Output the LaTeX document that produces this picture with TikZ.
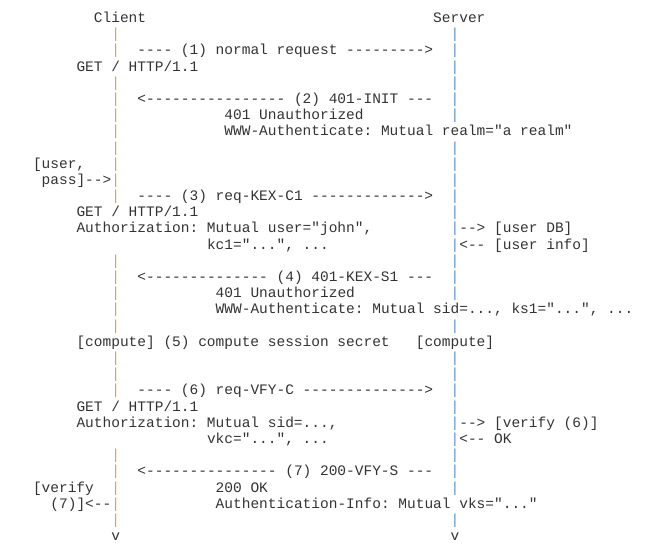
\documentclass[tikz,border=0pt]{standalone}
\usepackage{fontspec}
\setmonofont{Liberation Mono}
\definecolor{txt}{HTML}{333333}
\definecolor{cbar}{HTML}{E8A23C}
\definecolor{sbar}{HTML}{5B8FD8}
\tikzset{seg/.style={anchor=base west,inner sep=0pt,outer sep=0pt,font=\ttfamily\fontsize{14.5}{16}\selectfont,text=txt}}
\newcommand{\sg}[4]{\node[seg] (#1) at ({33+8.7*#3},{-(22.5+16.19*#2)}) {#4};}
\begin{document}
\begin{tikzpicture}[x=1pt,y=1pt]
\useasboundingbox (0,0) rectangle (667,-553);
% client bars
\foreach \r in {1,2,4,5,6,7,8,9,10,11,15,16,17,18,19,21,22,23,27,28,29,30,31}{
  \node[seg,text=cbar] (c\r) at ({33+8.7*9},{-(22.5+16.19*\r)}) {|};}
\foreach \r in {1,2,3,4,5,6,8,9,10,11,12,13,14,15,16,17,19,21,22,23,24,25,26,27,28,29,31}{
  \node[seg,text=sbar] (s\r) at ({33+8.7*48},{-(22.5+16.19*\r)}) {|};}
\sg{client}{0}{7}{Client}
\sg{server}{0}{46}{Server}
\sg{m1}{2}{12}{---- (1) normal request --------->}
\sg{g1}{3}{5}{GET / HTTP/1.1}
\sg{m2}{5}{12}{<---------------- (2) 401-INIT ---}
\sg{u2}{6}{22}{401 Unauthorized}
\sg{w2}{7}{22}{WWW-Authenticate: Mutual realm="a realm"}
\sg{up1}{9}{0}{[user,}
\sg{up2}{10}{1}{pass]-->}
\sg{m3}{11}{12}{---- (3) req-KEX-C1 ------------->}
\sg{g3}{12}{5}{GET / HTTP/1.1}
\sg{a3}{13}{5}{Authorization: Mutual user="john",}
\sg{k3}{14}{20}{kc1="...", ...}
\sg{db1}{13}{49}{--> [user DB]}
\sg{db2}{14}{49}{<-- [user info]}
\sg{m4}{16}{12}{<-------------- (4) 401-KEX-S1 ---}
\sg{u4}{17}{21}{401 Unauthorized}
\sg{w4}{18}{21}{WWW-Authenticate: Mutual sid=..., ks1="...", ...}
\sg{cp1}{20}{5}{[compute] (5) compute session secret}
\sg{cp2}{20}{44}{[compute]}
\sg{m6}{23}{12}{---- (6) req-VFY-C -------------->}
\sg{g6}{24}{5}{GET / HTTP/1.1}
\sg{a6}{25}{5}{Authorization: Mutual sid=...,}
\sg{k6}{26}{20}{vkc="...", ...}
\sg{v1}{25}{49}{--> [verify (6)]}
\sg{v2}{26}{49}{<-- OK}
\sg{m7}{28}{12}{<--------------- (7) 200-VFY-S ---}
\sg{vf1}{29}{0}{[verify}
\sg{vf2}{30}{2}{(7)]<--}
\sg{o7}{29}{21}{200 OK}
\sg{ai7}{30}{21}{Authentication-Info: Mutual vks="..."}
\sg{ve1}{32}{9}{v}
\sg{ve2}{32}{48}{v}
\end{tikzpicture}
\end{document}
